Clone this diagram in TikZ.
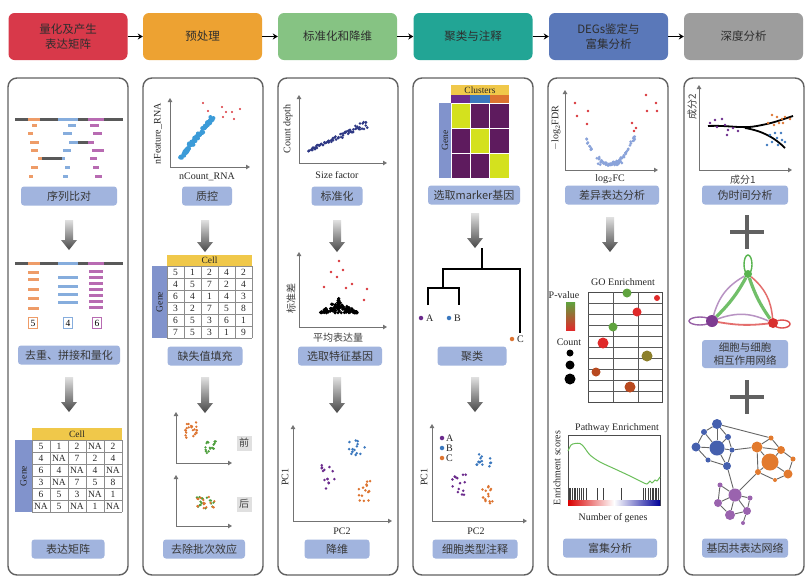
\documentclass[tikz,border=0pt]{standalone}
\usepackage{fontspec}
\setmainfont{Liberation Serif}
\newfontfamily\cjk{Noto Sans CJK SC}
\usepackage{tikz}
\usetikzlibrary{arrows.meta}
\usetikzlibrary{backgrounds}
\definecolor{hred}{HTML}{D8394A}
\definecolor{horange}{HTML}{EDA232}
\definecolor{hgreen}{HTML}{86C383}
\definecolor{hteal}{HTML}{22A595}
\definecolor{hblue}{HTML}{5A78B9}
\definecolor{hgray}{HTML}{9D9D9D}
\definecolor{lblue}{HTML}{A1B4DE}
\definecolor{hyel}{HTML}{F0C84A}
\definecolor{genebl}{HTML}{8193CC}
\definecolor{dorng}{HTML}{DD7430}
\definecolor{dblue}{HTML}{3B78BE}
\definecolor{dpurp}{HTML}{6B2A8C}
\definecolor{dgreen}{HTML}{4E9F3D}
\definecolor{rorng}{HTML}{EE9C68}
\definecolor{rblue}{HTML}{86ADDD}
\definecolor{rpurp}{HTML}{B86BB2}
\definecolor{qcblue}{HTML}{3B9BD8}
\definecolor{navy}{HTML}{2F3985}
\definecolor{ptred}{HTML}{D9343A}
\definecolor{vblue}{HTML}{8AA3DA}
\definecolor{heatp}{HTML}{5E1B5E}
\definecolor{heaty}{HTML}{D4E11E}
\definecolor{gsea}{HTML}{6BBE5A}
\definecolor{cgreen}{HTML}{58B44F}
\definecolor{cpurp}{HTML}{7E3B91}
\definecolor{cred}{HTML}{D8302F}
\definecolor{npurp}{HTML}{9A63AE}
\definecolor{nblue}{HTML}{4560AE}
\definecolor{norng}{HTML}{E27A2E}
\definecolor{gogreen}{HTML}{5FA33E}
\definecolor{gored}{HTML}{E02A2A}
\definecolor{goolive}{HTML}{8C7F2A}
\definecolor{gobrown}{HTML}{B8491F}
\tikzset{head/.style={rounded corners=6pt,minimum width=119pt,minimum height=47pt,inner sep=1pt,
   text=black!82,align=center,font=\cjk\fontsize{11.5}{15}\selectfont},
 harr/.style={line width=1.3pt,-{Stealth[length=5pt,width=6pt]}},
 panel/.style={draw=black!62,line width=1.4pt,rounded corners=9pt},
 tag/.style={fill=lblue,rounded corners=3pt,minimum height=19pt,inner sep=1pt,
   text=black!78,align=center,font=\cjk\fontsize{11}{13}\selectfont},
 axis/.style={draw=black!55,line width=1pt,{Triangle[length=4pt,width=4.5pt]}-{Triangle[length=4pt,width=4.5pt]}},
 axlab/.style={text=black!85,font=\fontsize{10}{11}\selectfont,inner sep=0pt},
 cjklab/.style={text=black!75,font=\cjk\fontsize{10}{11}\selectfont,inner sep=0pt},
 read/.style={line width=3pt},
 gridc/.style={draw=black!45,line width=0.7pt},
 num/.style={font=\fontsize{9.5}{10}\selectfont,inner sep=0pt,text=black!85},
 numbox/.style={draw,line width=0.8pt,minimum width=9pt,minimum height=11pt,inner sep=0pt,
   font=\fontsize{9.5}{10}\selectfont},
 bar/.style={inner sep=0pt,font=\fontsize{9.5}{10}\selectfont,text=black!85},
 dot/.style={circle,inner sep=0pt,minimum size=4.5pt},
 gn/.style={circle,inner sep=0pt},
 link/.style={draw=black!60,line width=0.9pt},
}
\newcommand{\grayarr}[3]{\shade[top color=black!12,bottom color=black!72]
  (#1-4,#2) -- (#1+4,#2) -- (#1+4,#3-10) -- (#1+8,#3-10) -- (#1,#3) -- (#1-8,#3-10) -- (#1-4,#3-10) -- cycle;}
\begin{document}
\begin{tikzpicture}[x=1pt,y=-1pt]
\pgfmathsetseed{11}
\useasboundingbox (0,0) rectangle (812,587);
\begin{pgfonlayer}{background}
\fill[white] (0,0) rectangle (812,587);
\end{pgfonlayer}

\node[head,fill=hred] (h1) at (68,36.5) {量化及产生\\表达矩阵};
\node[head,fill=horange] (h2) at (202.5,36.5) {预处理};
\node[head,fill=hgreen] (h3) at (337.5,36.5) {标准化和降维};
\node[head,fill=hteal] (h4) at (473,36.5) {聚类与注释};
\node[head,fill=hblue] (h5) at (608.5,36.5) {DEGs鉴定与\\富集分析};
\node[head,fill=hgray] (h6) at (743.5,36.5) {深度分析};
\foreach \a/\b in {h1/h2,h2/h3,h3/h4,h4/h5,h5/h6}
  \draw[harr] (\a) -- (\b);

\foreach \x in {8,143,278,413,548,684}
  \draw[panel] (\x,78) rectangle ++(120,497);

\node[tag,minimum width=96pt] (t11) at (69,196) {序列比对};
\node[tag,minimum width=102pt] (t12) at (69,355) {去重、拼接和量化};
\node[tag,minimum width=73pt] (t13) at (68,549) {表达矩阵};
\node[tag,minimum width=50pt] (t21) at (207,196) {质控};
\node[tag,minimum width=75pt] (t22) at (205,356) {缺失值填充};
\node[tag,minimum width=82pt] (t23) at (204,549) {去除批次效应};
\node[tag,minimum width=51pt] (t31) at (337,196) {标准化};
\node[tag,minimum width=84pt] (t32) at (340,356) {选取特征基因};
\node[tag,minimum width=65pt] (t33) at (337,549) {降维};
\node[tag,minimum width=92pt] (t41) at (474,195) {选取marker基因};
\node[tag,minimum width=69pt] (t42) at (472,356) {聚类};
\node[tag,minimum width=85pt] (t43) at (475,549) {细胞类型注释};
\node[tag,minimum width=94pt] (t51) at (612,195) {差异表达分析};
\node[tag,minimum width=94pt] (t52) at (610,548) {富集分析};
\node[tag,minimum width=86pt] (t61) at (745,195) {伪时间分析};
\node[tag,minimum width=86pt,minimum height=28pt,font=\cjk\fontsize{10.5}{13}\selectfont] (t62) at (745,354) {细胞与细胞\\相互作用网络};
\node[tag,minimum width=86pt] (t63) at (745,548) {基因共表达网络};

\grayarr{69}{220}{250}
\grayarr{69}{377}{412}
\grayarr{205}{220}{252}
\grayarr{205}{377}{413}
\grayarr{337}{220}{252}
\grayarr{337}{377}{413}
\grayarr{475}{213}{248}
\grayarr{475}{377}{412}
\grayarr{610}{217}{252}

% column 1
\draw[read,black!65] (15,119) -- (123,119);
\draw[read,rorng] (28,119) -- (40,119);
\draw[read,rblue] (58,119) -- (78,119);
\draw[read,rpurp] (88,119) -- (104,119);
\foreach \a/\b/\y in {32/37/125,28/33/133,30/39/142,31/38/150,38/42/158,31/38/167,29/33/176}
  \draw[read,rorng] (\a,\y) -- (\b,\y);
\foreach \a/\b/\y in {68/76/125,63/72/133,69/78/142,63/71/150,62/65/158,65/70/167,63/68/176}
  \draw[read,rblue] (\a,\y) -- (\b,\y);
\foreach \a/\b/\y in {90/99/125,93/102/133,88/94/142,92/104/150,90/97/158,93/99/167,95/102/176}
  \draw[read,rpurp] (\a,\y) -- (\b,\y);
\draw[read,black!65] (42,158) -- (62,158);
\draw[read,black!65] (78,142) -- (88,142);

\draw[read,black!65] (15,263) -- (123,263);
\draw[read,rorng] (28,263) -- (40,263);
\draw[read,rblue] (58,263) -- (78,263);
\draw[read,rpurp] (88,263) -- (104,263);
\foreach \y in {272,279,289,298,308}
  \draw[read,rorng] (28,\y) -- (39,\y);
\foreach \y in {277,286,294,302}
  \draw[read,rblue] (58,\y) -- (78,\y);
\foreach \y in {271,277,283,289,295,301,307}
  \draw[read,rpurp] (89,\y) -- (103,\y);
\node[numbox,draw=rorng] (n5) at (33,323) {5};
\node[numbox,draw=rblue] (n4) at (68,323) {4};
\node[numbox,draw=rpurp] (n6) at (97,323) {6};

\node[bar,fill=hyel,minimum width=90pt,minimum height=12pt] (cell1) at (77,434) {Cell};
\node[bar,fill=genebl,rotate=90,minimum width=72pt,minimum height=17pt] (gene1) at (23.5,476) {Gene};
\foreach \i in {0,...,5}
  \draw[gridc] ({32+18*\i},440) -- ({32+18*\i},512);
\foreach \j in {0,...,6}
  \draw[gridc] (32,{440+12*\j}) -- (122,{440+12*\j});
\foreach \row [count=\r] in {{5,1,2,NA,2},{4,NA,7,2,4},{6,4,NA,4,NA},{3,NA,7,5,8},{6,5,3,NA,1},{NA,5,NA,1,NA}}
  \foreach \v [count=\c] in \row
    \node[num] (a\r\c) at ({23+18*\c},{434+12*\r}) {\v};

% column 2
\draw[axis] (170,98) -- (170,167) -- (250,167);
\node[axlab,rotate=90] (yqc) at (158,134) {nFeature\_RNA};
\node[axlab] (xqc) at (207,177) {nCount\_RNA};
\foreach \i in {0,...,80}
  \fill[qcblue] ({180+0.4125*\i+1.8*rand},{158-0.5125*\i+1.8*rand}) circle (2pt);
\foreach \x/\y in {203/103,208/111,222/107,226/112,232/112,240/109,223/117,234/119}
  \fill[ptred] (\x,\y) circle (1.2pt);

\node[bar,fill=hyel,minimum width=85pt,minimum height=11pt] (cell2) at (209.5,260.5) {Cell};
\node[bar,fill=genebl,rotate=90,minimum width=72pt,minimum height=15pt] (gene2) at (159.5,302) {Gene};
\foreach \i in {0,...,5}
  \draw[gridc] ({167+17*\i},266) -- ({167+17*\i},338);
\foreach \j in {0,...,6}
  \draw[gridc] (167,{266+12*\j}) -- (252,{266+12*\j});
\foreach \row [count=\r] in {{5,1,2,4,2},{4,5,7,2,4},{6,4,1,4,3},{3,2,7,5,8},{6,5,3,6,1},{7,5,3,1,9}}
  \foreach \v [count=\c] in \row
    \node[num] (b\r\c) at ({158.5+17*\c},{260+12*\r}) {\v};

\draw[axis] (176,412) -- (176,463) -- (232,463);
\foreach \i in {1,...,22}
  \fill[dorng] ({191+6*rand},{430+8*rand}) circle (1.3pt);
\foreach \i in {1,...,18}
  \fill[dgreen] ({211+6*rand},{447+6*rand}) circle (1.3pt);
\node[fill=black!12,minimum size=15pt,inner sep=0pt,cjklab] (qian) at (244,443) {前};
\draw[axis] (176,475) -- (176,526) -- (232,526);
\foreach \i in {1,...,16}
  \fill[dgreen] ({205+10*rand},{503+6*rand}) circle (1.3pt);
\foreach \i in {1,...,16}
  \fill[dorng] ({205+10*rand},{503+6*rand}) circle (1.3pt);
\node[fill=black!12,minimum size=15pt,inner sep=0pt,cjklab] (hou) at (244,504) {后};

% column 3
\draw[axis] (299,95) -- (299,163) -- (387,163);
\node[axlab,rotate=90] (ycd) at (288,129) {Count depth};
\node[axlab] (xsf) at (337,175) {Size factor};
\foreach \i in {0,...,80}
  \fill[navy] ({308+0.7375*\i+1.5*rand},{151-0.3375*\i+(1+\i/30)*rand}) circle (1.4pt);

\draw[axis] (299,252) -- (299,327) -- (387,327);
\node[cjklab,rotate=90] (ysd) at (291,298) {标准差};
\node[cjklab] (xme) at (338,338) {平均表达量};
\foreach \x/\y in {339/261,331/272,343/270,337/277,352/284,346/288,324/287,367/289,364/300}
  \fill[ptred] (\x,\y) circle (1.4pt);
\foreach \i in {1,...,120}{
  \pgfmathsetmacro\u{rand}
  \pgfmathsetmacro\v{rnd}
  \fill ({339+19*\u},{313-15*\v*(1-abs(\u))}) circle (1.7pt);}

\draw[axis] (293,425) -- (293,521) -- (392,521);
\node[axlab,rotate=90] (ypc1) at (285,477) {PC1};
\node[axlab] (xpc1) at (342,531) {PC2};
\foreach \i in {1,...,14}
  \fill[dblue] ({356+9*rand},{448+8*rand}) circle (1.4pt);
\foreach \i in {1,...,14}
  \fill[dpurp] ({328+7*rand},{477+12*rand}) circle (1.4pt);
\foreach \i in {1,...,14}
  \fill[dorng] ({364+7*rand},{491+10*rand}) circle (1.4pt);

% column 4
\node[bar,fill=hyel,minimum width=58pt,minimum height=10pt] (clu) at (480,90) {Clusters};
\fill[dpurp] (451,95) rectangle (470,103);
\fill[dblue] (470,95) rectangle (490,103);
\fill[dorng] (490,95) rectangle (509,103);
\node[bar,fill=genebl,rotate=90,minimum width=75pt,minimum height=12pt] (gene3) at (445,140.5) {Gene};
\foreach \c in {0,1,2}
  \foreach \r in {0,1,2}{
    \ifnum\c=\r \def\hc{heaty}\else \def\hc{heatp}\fi
    \fill[\hc,draw=white,line width=0.5pt] ({451+19.33*\c},{103+25*\r}) rectangle ++(19.33,25);}

\draw[line width=1.1pt] (482,248) -- (482,269);
\draw[line width=1.1pt] (443,288) -- (443,269) -- (520,269) -- (520,333);
\draw[line width=1.1pt] (428,305) -- (428,288) -- (459,288) -- (459,305);
\node[dot,fill=dpurp] (dA) at (421,318) {};
\node[axlab,anchor=west] (lA) at (426,318) {A};
\node[dot,fill=dblue] (dB) at (449,318) {};
\node[axlab,anchor=west] (lB) at (454,318) {B};
\node[dot,fill=dorng] (dC) at (512,339) {};
\node[axlab,anchor=west] (lC) at (517,339) {C};

\draw[axis] (432,424) -- (432,521) -- (527,521);
\node[axlab,rotate=90] (ypc2) at (424,477) {PC1};
\node[axlab] (xpc2) at (476,531) {PC2};
\node[dot,fill=dpurp] (gA) at (442,438) {};
\node[axlab,anchor=west] (mA) at (446,438) {A};
\node[dot,fill=dblue] (gB) at (442,448) {};
\node[axlab,anchor=west] (mB) at (446,448) {B};
\node[dot,fill=dorng] (gC) at (442,458) {};
\node[axlab,anchor=west] (mC) at (446,458) {C};
\foreach \i in {1,...,14}
  \fill[dblue] ({483+8*rand},{460+7*rand}) circle (1.4pt);
\foreach \i in {1,...,14}
  \fill[dpurp] ({459+7*rand},{484+11*rand}) circle (1.4pt);
\foreach \i in {1,...,14}
  \fill[dorng] ({488+6*rand},{496+10*rand}) circle (1.4pt);

% column 5
\draw[axis] (565,90) -- (565,170) -- (658,170);
\node[axlab,rotate=90] (yfdr) at (556,128) {$-$log$_2$FDR};
\node[axlab] (xfc) at (610,179) {log$_2$FC};
\foreach \i in {1,...,60}{
  \pgfmathsetmacro\u{rand}
  \fill[vblue] ({610+25*\u+1.2*rand},{166-29*\u*\u-2.5*rnd}) circle (1.5pt);}
\foreach \i in {1,...,30}
  \fill[vblue] ({610+12*rand},{165-4*rnd}) circle (1.5pt);
\foreach \x/\y in {575/103,577/116,588/111,587/124,632/123,636/128,634/131,646/95,656/103,647/111,657/111}
  \fill[ptred] (\x,\y) circle (1.3pt);

\node[axlab] (gotit) at (623,282) {GO Enrichment};
\draw[black!70,line width=0.8pt] (588,292) rectangle (662,402);
\foreach \y in {303,314,...,391}
  \draw[black!65,line width=0.7pt] (588,\y) -- (662,\y);
\foreach \x in {613,638}
  \draw[black!65,line width=0.7pt] (\x,292) -- (\x,402);
\foreach \x/\y/\r/\c in {627/293/4.5/gogreen,657/298/3/gored,637/312/4.5/gored,613/327/4.5/gogreen,603/343/5.5/gored,647/356/5.5/goolive,596/372/4.5/gobrown,630/387/5.5/gobrown}
  \fill[\c] (\x,\y) circle (\r pt);
\node[axlab] (pval) at (564,295) {P-value};
\shade[top color=gogreen,bottom color=gored] (566,302) rectangle (575,330);
\node[axlab] (cnt) at (569,342) {Count};
\fill (570,353) circle (3.5pt);
\fill (570,365) circle (4.5pt);
\fill (570,379) circle (5.5pt);

\node[axlab] (pwtit) at (617,428) {Pathway Enrichment};
\draw[black!70,line width=0.8pt] (568,435) rectangle (660,505);
\node[axlab,rotate=90] (yes) at (557,468) {Enrichment scores};
\node[axlab] (xng) at (613,518) {Number of genes};
\foreach \x in {569,570.5,572,574,575.5,577.5,579,581,583,586,597,603,621,643,645.5,648,650,652,653.5,655,656.5,658}
  \draw[black!75,line width=0.5pt] (\x,488) -- (\x,500);
\shade[left color=red!85!black,right color=blue!60!black,middle color=white] (568,500) rectangle (660,505);
\draw[gsea,line width=1pt] plot[smooth] coordinates {(568,451) (571,445) (575,443.5) (580,443.5) (584,447) (590,455) (600,462) (615,469) (630,476) (642,482) (647,484) (650,481) (652,483) (655,480) (657,481) (660,477)};

% column 6
\draw[axis] (699,85) -- (699,170) -- (792,170);
\node[cjklab,rotate=90,fill=white] (ycf) at (692,107) {成分2};
\node[cjklab] (xcf) at (743,180) {成分1};
\draw[line width=1.8pt] (708,126) .. controls (728,125) and (742,129) .. (757,126) .. controls (772,123) .. (793,116);
\draw[line width=1.8pt] (745,128) .. controls (763,131) and (775,138) .. (785,148);
\foreach \x/\y in {715/120,722/119,717/127,725/125,728/130,733/128,738/131,727/135,710/123}
  \fill[dpurp] (\x,\y) circle (1.3pt);
\foreach \x/\y in {772/115,777/117,782/119,785/117,790/119,768/123,774/125,779/123,783/123}
  \fill[dorng] (\x,\y) circle (1.3pt);
\foreach \x/\y in {767/145,772/142,777/138,781/133,782/140,775/133,770/135,778/145,785/142}
  \fill[dblue] (\x,\y) circle (1.3pt);

\draw[line width=4.5pt,black!62] (730,232) -- (764,232) (747,215) -- (747,249);
\draw[line width=4.5pt,black!62] (730,397) -- (764,397) (747,380) -- (747,414);

\node[gn,fill=cgreen,minimum size=8pt] (ng) at (748,274) {};
\node[gn,fill=cpurp,minimum size=12pt] (np) at (712,321) {};
\node[gn,fill=cred,minimum size=10pt] (nr) at (773,323) {};
\begin{pgfonlayer}{background}
\draw[cgreen,line width=1.4pt] (748,264.5) ellipse (4pt and 9.5pt);
\draw[cpurp!80,line width=1.4pt] (700,321) ellipse (11pt and 4pt);
\draw[cred!85,line width=1.4pt] (782,324) ellipse (8pt and 4pt);
\draw[cpurp!55,line width=1.5pt] (ng) to[bend right=22] (np);
\draw[cgreen!85,line width=3.2pt] (ng) to[bend left=8] (np);
\draw[cgreen!85,line width=3.2pt] (ng) to[bend right=8] (nr);
\draw[cred!70,line width=1.5pt] (ng) to[bend left=22] (nr);
\draw[cpurp!55,line width=1.5pt] (np) to[bend left=22] (nr);
\draw[cred!70,line width=1.8pt] (np) to[bend right=8] (nr);
\end{pgfonlayer}

\foreach \n/\x/\y/\s in {b1/717/424/10,b2/704/432/6,b3/696/447/9,b4/717/448/15,b5/728/437/6,b6/708/460/5,b7/727/466/8,b8/732/450/5}
  \node[gn,fill=nblue,minimum size=\s pt] (\n) at (\x,\y) {};
\foreach \n/\x/\y/\s in {o1/757/447/11,o2/771/438/5,o3/781/450/8,o4/793/459/5,o5/770/462/17,o6/788/474/9,o7/758/472/6,o8/775/480/4}
  \node[gn,fill=norng,minimum size=\s pt] (\n) at (\x,\y) {};
\foreach \n/\x/\y/\s in {p1/720/485/5,p2/735/495/13,p3/718/503/8,p4/730/515/10,p5/747/511/8,p6/750/498/5,p7/743/523/4}
  \node[gn,fill=npurp,minimum size=\s pt] (\n) at (\x,\y) {};
\begin{pgfonlayer}{background}
\foreach \a/\b in {b1/b2,b1/b4,b1/b5,b2/b3,b3/b4,b3/b6,b4/b5,b4/b7,b4/b8,b6/b7,b2/b4,b5/b8,b7/b8,
  o1/o2,o1/o5,o1/o3,o2/o3,o3/o4,o3/o5,o4/o6,o5/o6,o5/o7,o6/o8,o7/o8,o1/o7,
  p1/p2,p2/p3,p2/p4,p2/p5,p2/p6,p3/p4,p4/p5,p5/p7,p6/p5,p1/p3,
  b1/o2,b8/o1,b7/p2,o7/p2}
  \draw[link] (\a) -- (\b);
\end{pgfonlayer}
\end{tikzpicture}
\end{document}
